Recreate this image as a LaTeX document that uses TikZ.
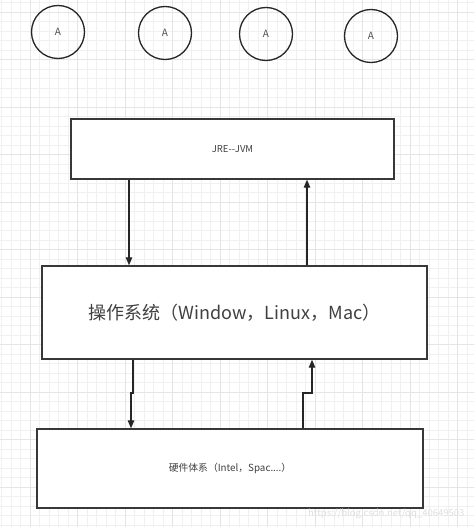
\documentclass[tikz,border=0pt]{standalone}
\usepackage{fontspec}
\setmainfont{Noto Sans CJK SC}
\usetikzlibrary{arrows.meta}
\tikzset{
  ball/.style={draw=black!85,line width=1.3pt,circle,minimum size=53pt,inner sep=0pt,
    text=black!70,font=\fontsize{10}{12}\selectfont},
  layer/.style={draw=black!78,line width=1.4pt,fill=white,inner sep=0pt,text=black!75},
  link/.style={-{Triangle[length=8pt,width=6.5pt]},line width=1.2pt,draw=black!85},
}
\begin{document}
\begin{tikzpicture}[x=1pt,y=-1pt]
  \useasboundingbox (0,0) rectangle (474,527);
  % background grid
  \begin{scope}[y=1pt]
    \clip (0,0) rectangle (474,-527);
    \draw[black!6,line width=0.5pt,shift={(30,-12)}] (-40,-560) grid[step=9.5] (480,40);
    \draw[black!10,line width=0.6pt,shift={(30,-12)}] (-40,-560) grid[step=47.5] (480,40);
  \end{scope}
  % threads
  \draw
    (58,32) node[ball] (a1){A}
    (165,33) node[ball] (a2){A}
    (266,34) node[ball] (a3){A}
    (371,36) node[ball] (a4){A};
  % layers
  \node[layer,minimum width=323pt,minimum height=60pt,font=\fontsize{9.5}{11}\selectfont]
    (jre) at (232.5,149) {JRE-{}-JVM};
  \node[layer,minimum width=385pt,minimum height=93pt,font=\fontsize{18}{21}\selectfont]
    (os) at (234.5,312.5) {操作系统（Window，Linux，Mac）};
  \node[layer,minimum width=386pt,minimum height=79pt,font=\fontsize{9.8}{11}\selectfont]
    (hw) at (230,468.5) {硬件体系（Intel，Spac....）};
  % bends
  \coordinate (d1) at (129,0);
  \coordinate (u1) at (307,0);
  \coordinate (d2) at (133,393);
  \coordinate (d3) at (131,393);
  \coordinate (u2) at (303,393);
  \coordinate (u3) at (312,393);
  \begin{scope}[link]
    \draw (jre.south -| d1) to (os.north -| d1);
    \draw (os.north -| u1) to (jre.south -| u1);
    \draw (os.south -| d2) -- (d2) -- (d3) -- (hw.north -| d3);
    \draw (hw.north -| u2) -- (u2) -- (u3) -- (os.south -| u3);
  \end{scope}
  \node[black!13,font=\fontsize{9.5}{11}\selectfont,anchor=east] (mark) at (468,514)
    {https://blog.csdn.net/qq\_40649503};
\end{tikzpicture}
\end{document}
